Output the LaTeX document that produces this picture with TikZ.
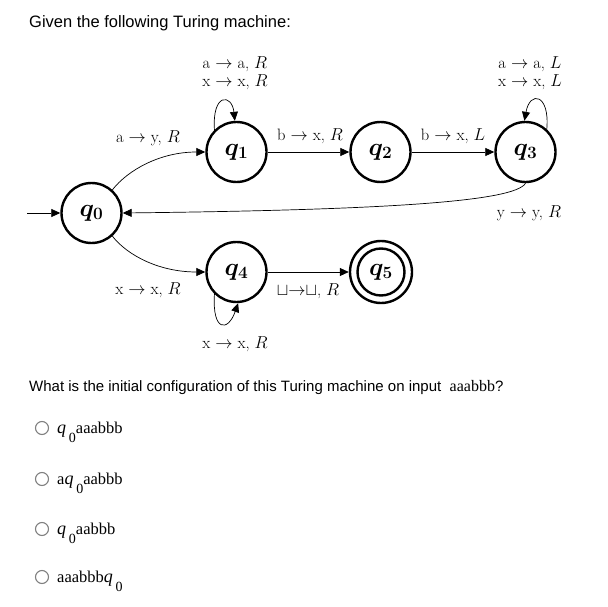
\documentclass[tikz,border=0pt]{standalone}
\usepackage{amsmath}
\usepackage{fontspec}
\setmainfont{Liberation Serif}
\newfontfamily\arialfont{Liberation Sans}
\newfontfamily\lmfont{Latin Modern Roman}
\usetikzlibrary{arrows.meta}
\begin{document}
\begin{tikzpicture}[x=1pt,y=-1pt,
  state/.style={circle,draw,line width=2.4pt,minimum size=60pt,inner sep=0pt,font=\fontsize{26}{26}\selectfont},
  ring/.style={circle,draw,line width=2.4pt,minimum size=47pt,inner sep=0pt},
  edge/.style={draw,line width=0.7pt,-{Triangle[length=9pt,width=8pt]}},
  loopedge/.style={draw,line width=0.7pt,-{Triangle[length=9pt,width=8pt]}},
  lab/.style={font=\lmfont\fontsize{16.5}{18}\selectfont,inner sep=0pt,align=center},
  sans/.style={font=\arialfont\fontsize{15}{17}\selectfont,inner sep=0pt,anchor=base west},
  opt/.style={font=\fontsize{16.5}{18}\selectfont,inner sep=0pt,anchor=base west},
  radio/.style={circle,draw=black!50,line width=1.1pt,minimum size=13pt,inner sep=0pt}
]
\useasboundingbox (0,0) rectangle (608,607);

% title
\node[sans,font=\arialfont\fontsize{16.5}{18}\selectfont] (title) at (29,28) {Given the following Turing machine:};

% states
\node[state] (q0) at (91.5,213) {$\boldsymbol{q_0}$};
\node[state] (q1) at (236.5,152) {$\boldsymbol{q_1}$};
\node[state] (q2) at (380.5,152) {$\boldsymbol{q_2}$};
\node[state] (q3) at (525.5,152) {$\boldsymbol{q_3}$};
\node[state] (q4) at (236.5,272) {$\boldsymbol{q_4}$};
\node[state,minimum size=62pt] (q5) at (381,272) {$\boldsymbol{q_5}$};
\node[ring] (q5i) at (q5.center) {};

\coordinate (start) at (27,213);

% edges
\draw[edge] (start) -- (q0.west);
\draw[edge] (q0.48) .. controls (128,170) and (160,152) .. (q1.west);
\draw[edge] (q0.-48) .. controls (128,256) and (160,272) .. (q4.west);
\draw[edge] (q1.east) -- (q2.west);
\draw[edge] (q2.east) -- (q3.west);
\draw[edge] (q4.east) -- (q5.west);
\draw[edge] (q3.south) .. controls (515,202) and (380,210) .. (q0.east);

% loops
\draw[loopedge] (q1.135) .. controls (212,92) and (232,94) .. (q1.93);
\draw[loopedge] (q3.47) .. controls (550,94) and (530,90) .. (q3.92);
\draw[loopedge] (q4.-135) .. controls (212,332) and (228,332) .. (q4.-87);

% labels
\node[lab] (l11) at (235,73) {a $\to$ a, $R$\\[0pt] x $\to$ x, $R$};
\node[lab] (l01) at (148,138) {a $\to$ y, $R$};
\node[lab] (l12) at (310,136) {b $\to$ x, $R$};
\node[lab] (l23) at (453,136) {b $\to$ x, $L$};
\node[lab] (l33) at (530,73) {a $\to$ a, $L$\\[0pt] x $\to$ x, $L$};
\node[lab] (l30) at (529,213) {y $\to$ y, $R$};
\node[lab] (l04) at (148,290) {x $\to$ x, $R$};
\node[lab] (l45) at (308,291) {$\sqcup{\to}\sqcup$, $R$};
\node[lab] (l44) at (235,344) {x $\to$ x, $R$};

% question
\node[sans] (qst) at (29,391) {What is the initial configuration of this Turing machine on input\ \ {\rmfamily\fontsize{16}{17}\selectfont aaabbb}?};

% options
\node[radio] (r1) at (42,428) {};
\node[radio] (r2) at (42,479) {};
\node[radio] (r3) at (42,529) {};
\node[radio] (r4) at (42,577) {};
\newcommand{\qz}{{\itshape\fontsize{18}{18}\selectfont q}\,\raisebox{-9pt}{\fontsize{14}{14}\selectfont 0}}
\node[opt] (o1) at (57,433) {\qz aaabbb};
\node[opt] (o2) at (57,484) {a\qz aabbb};
\node[opt] (o3) at (57,534) {\qz aabbb};
\node[opt] (o4) at (57,582) {aaabbb\qz};
\end{tikzpicture}
\end{document}
